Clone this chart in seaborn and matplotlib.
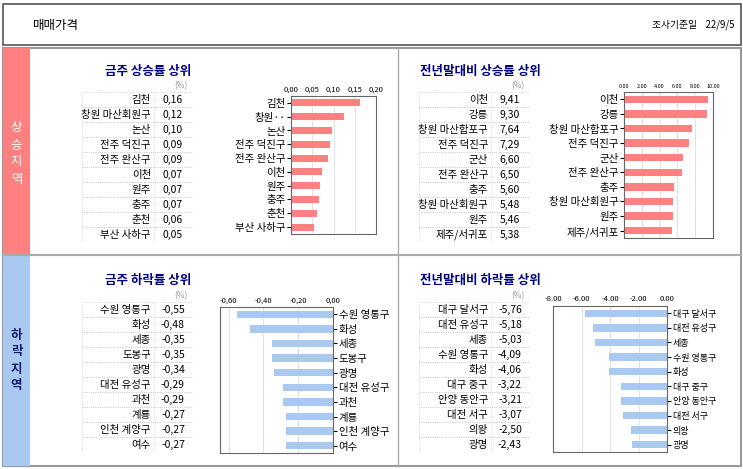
import matplotlib
matplotlib.use("Agg")
import matplotlib.pyplot as plt
from matplotlib import font_manager as fm
import seaborn as sns
import pandas as pd
from matplotlib.patches import Rectangle

cands = [f.name for f in fm.fontManager.ttflist if "CJK" in f.name]
pref = [n for n in ["Noto Sans CJK KR", "Noto Sans CJK JP", "Noto Sans CJK SC", "Noto Sans CJK TC"] if n in cands] + cands
plt.rcParams["font.family"] = (pref[:1] if pref else []) + ["DejaVu Sans"]
plt.rcParams["axes.unicode_minus"] = False

W, H = 743, 469
wk_up_names = ["김천", "창원 마산회원구", "논산", "전주 덕진구", "전주 완산구", "이천", "원주", "충주", "춘천", "부산 사하구"]
wk_up_chart_labels = ["김천", "창원··", "논산", "전주 덕진구", "전주 완산구", "이천", "원주", "충주", "춘천", "부산 사하구"]
wk_up_vals = [0.16, 0.12, 0.10, 0.09, 0.09, 0.07, 0.07, 0.07, 0.06, 0.05]
wk_up_bar = [0.162, 0.124, 0.097, 0.092, 0.087, 0.072, 0.068, 0.066, 0.060, 0.054]

yr_up_names = ["이천", "강릉", "창원 마산합포구", "전주 덕진구", "군산", "전주 완산구", "충주", "창원 마산회원구", "원주", "제주/서귀포"]
yr_up_vals = [9.41, 9.30, 7.64, 7.29, 6.60, 6.50, 5.60, 5.48, 5.46, 5.38]

wk_dn_names = ["수원 영통구", "화성", "세종", "도봉구", "광명", "대전 유성구", "과천", "계룡", "인천 계양구", "여수"]
wk_dn_vals = [-0.55, -0.48, -0.35, -0.35, -0.34, -0.29, -0.29, -0.27, -0.27, -0.27]

yr_dn_names = ["대구 달서구", "대전 유성구", "세종", "수원 영통구", "화성", "대구 중구", "안양 동안구", "대전 서구", "의왕", "광명"]
yr_dn_vals = [-5.76, -5.18, -5.03, -4.09, -4.06, -3.22, -3.21, -3.07, -2.50, -2.43]

fig = plt.figure(figsize=(W / 100, H / 100), dpi=100)
bg = fig.add_axes([0, 0, 1, 1])
bg.set_xlim(0, W); bg.set_ylim(H, 0); bg.axis("off")

def rect(x0, y0, x1, y1, fc="none", ec="#888888", lw=1.0):
    bg.add_patch(Rectangle((x0, y0), x1 - x0, y1 - y0, fc=fc, ec=ec, lw=lw))

rect(3, 4, 741, 45, ec="#555555", lw=1.2)
bg.text(33, 25, "매매가격", fontsize=9, va="center")
bg.text(735, 25, "조사기준일    22/9/5", fontsize=7, va="center", ha="right")
rect(3, 48, 741, 466, ec="#999999", lw=1.5)
rect(3, 48, 30, 254, fc="#FF8080", ec="none")
rect(3, 256, 30, 466, fc="#A9C9F0", ec="none")
bg.plot([3, 741], [255, 255], color="#aaaaaa", lw=1.5)
bg.plot([398, 398], [48, 466], color="#aaaaaa", lw=1.0)
for i, ch in enumerate("상승지역"):
    bg.text(16.5, 128 + i * 17, ch, color="white", fontsize=9, ha="center", va="center")
for i, ch in enumerate("하락지역"):
    bg.text(16.5, 335 + i * 17, ch, color="#1a1a6e", fontsize=9, ha="center", va="center", fontweight="bold")

titles = [(105, 72, "금주 상승률 상위", 180), (420, 72, "전년말대비 상승률 상위", 120),
          (105, 280, "금주 하락률 상위", 180), (420, 280, "전년말대비 하락률 상위", 120)]
for x, y, t, wmax in titles:
    ax = fig.add_axes([x / W, 1 - (y + 10) / H, wmax / W, 20 / H]); ax.axis("off")
    ax.text(0, 0.5, t, fontsize=9, color="#000080", fontweight="bold", va="center", clip_on=True)

def table(x0, y0, names, vals):
    rh = 15
    bg.text(x0 + 100, y0 - 6, "(%)", fontsize=6, color="#999999", ha="center", va="center")
    ax = fig.add_axes([x0 / W, 1 - (y0 + rh * 10) / H, 112 / W, rh * 10 / H])
    ax.set_xlim(0, 112); ax.set_ylim(rh * 10, 0); ax.axis("off")
    for i, (n, v) in enumerate(zip(names, vals)):
        yc = i * rh + rh / 2
        ax.text(70, yc, n, fontsize=7.5, ha="right", va="center", clip_on=True)
        ax.text(92, yc, f"{v:.2f}".replace(".", ","), fontsize=7.5, ha="center", va="center")
        ax.add_patch(Rectangle((0.5, i * rh), 111, rh, fc="none", ec="#cccccc", lw=0.6, ls=":"))
        ax.plot([73, 73], [i * rh, (i + 1) * rh], color="#cccccc", lw=0.6, ls=":")

table(81, 92, wk_up_names, wk_up_vals)
table(418, 92, yr_up_names, yr_up_vals)
table(81, 302, wk_dn_names, wk_dn_vals)
table(418, 302, yr_dn_names, yr_dn_vals)

def chart(x0, y0, x1, y1, labels, vals, color, xlim, ticks, tickfmt, right, tfs, lfs):
    ax = fig.add_axes([x0 / W, 1 - y1 / H, (x1 - x0) / W, (y1 - y0) / H])
    df = pd.DataFrame({"n": labels, "v": vals})
    sns.barplot(data=df, x="v", y="n", color=color, ax=ax, width=0.5, saturation=1, orient="h")
    ax.set_xlim(*xlim)
    ax.set_xticks(ticks)
    ax.set_xticklabels([tickfmt(t) for t in ticks], fontsize=tfs)
    ax.xaxis.tick_top()
    ax.tick_params(axis="x", length=0, pad=2)
    ax.tick_params(axis="y", length=3, labelsize=lfs, pad=1)
    ax.set_xlabel(""); ax.set_ylabel("")
    ax.grid(axis="x", color="#dddddd", lw=0.6); ax.set_axisbelow(True)
    for s in ax.spines.values():
        s.set_color("#666666"); s.set_linewidth(0.8)
    if right:
        ax.yaxis.tick_right()

fmt = lambda t: f"{t:.2f}".replace(".", ",")
chart(291, 96, 376, 234, wk_up_chart_labels, wk_up_bar, "#FF8080", (0, 0.2),
      [0, 0.05, 0.1, 0.15, 0.2], fmt, False, 5.5, 7.5)
chart(624, 92, 713, 238, yr_up_names, yr_up_vals, "#FF8080", (0, 10),
      [0, 2, 4, 6, 8, 10], lambda t: f"{t:.2f}", False, 4, 7.5)
chart(220, 307, 333, 453, wk_dn_names, wk_dn_vals, "#A9C9F0", (-0.65, 0),
      [-0.6, -0.4, -0.2, 0], fmt, True, 5.5, 7.5)
chart(553, 306, 667, 452, yr_dn_names, yr_dn_vals, "#A9C9F0", (-8.0, 0),
      [-8, -6, -4, -2, 0], lambda t: f"{t:.2f}", True, 5.5, 6.5)

fig.savefig("out.png", dpi=100)
